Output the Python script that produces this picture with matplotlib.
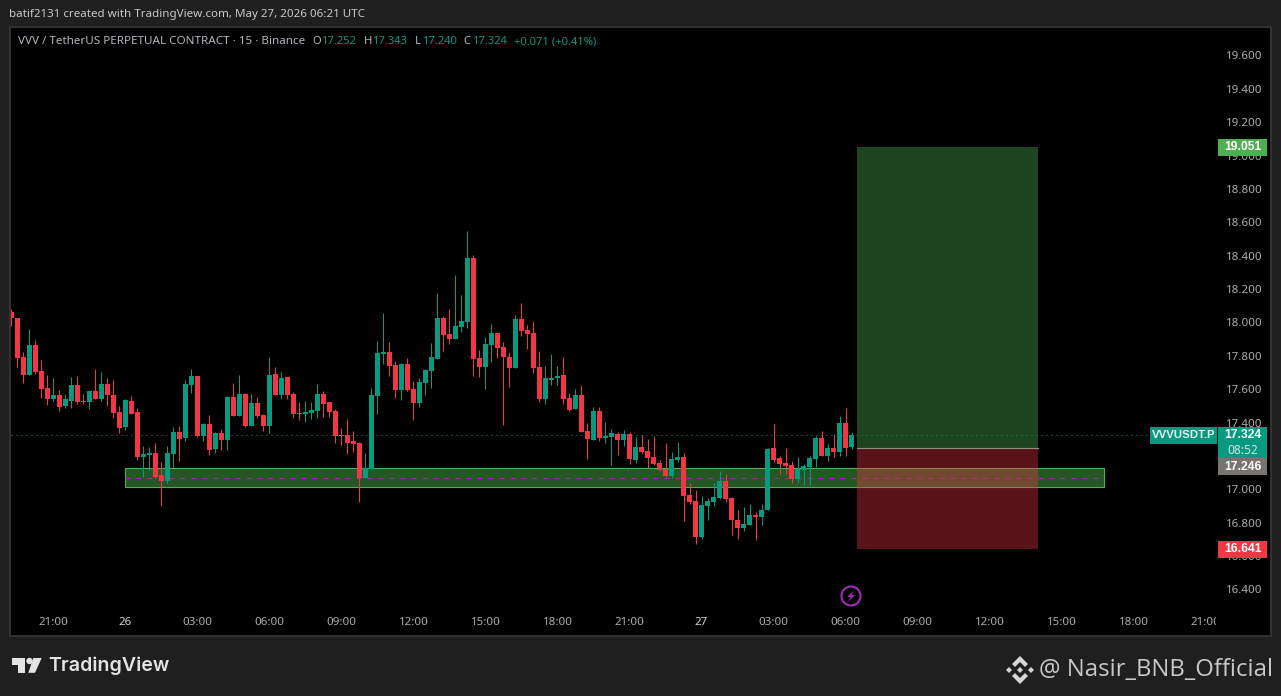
import matplotlib
matplotlib.use("Agg")
import matplotlib.pyplot as plt
from matplotlib.patches import Rectangle, Circle, Polygon
from matplotlib.transforms import Bbox

# 15 min candles, VVVUSDT.P
opens = [
    18.064, 18.028, 17.794, 17.686, 17.866, 17.71, 17.608, 17.542, 17.566, 17.5, 17.53, 17.626,
    17.53, 17.524, 17.59, 17.542, 17.632, 17.566, 17.464, 17.374, 17.53, 17.464, 17.194, 17.206,
    17.218, 17.086, 17.05, 17.212, 17.344, 17.308, 17.626, 17.68, 17.32, 17.392, 17.242, 17.338,
    17.296, 17.554, 17.44, 17.572, 17.38, 17.518, 17.446, 17.38, 17.692, 17.566, 17.674, 17.572,
    17.458, 17.452, 17.458, 17.47, 17.572, 17.524, 17.47, 17.326, 17.326, 17.29, 17.278, 17.068,
    17.122, 17.56, 17.812, 17.824, 17.746, 17.596, 17.752, 17.602, 17.518, 17.638, 17.71, 17.782,
    18.028, 17.932, 17.902, 17.974, 18.004, 18.388, 17.788, 17.734, 17.866, 17.938, 17.854, 17.794,
    17.728, 18.022, 17.956, 17.938, 17.734, 17.542, 17.656, 17.668, 17.686, 17.548, 17.482, 17.566,
    17.35, 17.296, 17.47, 17.308, 17.314, 17.332, 17.296, 17.332, 17.176, 17.254, 17.23, 17.194,
    17.158, 17.122, 17.08, 17.176, 17.194, 16.966, 16.93, 16.714, 16.9, 16.924, 16.948, 17.05,
    16.948, 16.816, 16.768, 16.786, 16.846, 16.834, 16.876, 17.248, 17.188, 17.158, 17.146, 17.062,
    17.116, 17.134, 17.182, 17.308, 17.2, 17.248, 17.224, 17.398, 17.252,
]
highs = [
    18.082, 18.028, 17.824, 17.962, 17.896, 17.776, 17.686, 17.668, 17.596, 17.572, 17.674, 17.68,
    17.572, 17.59, 17.722, 17.704, 17.668, 17.656, 17.5, 17.542, 17.56, 17.488, 17.26, 17.254,
    17.278, 17.164, 17.26, 17.374, 17.38, 17.656, 17.722, 17.68, 17.398, 17.446, 17.344, 17.362,
    17.56, 17.638, 17.686, 17.578, 17.572, 17.554, 17.452, 17.794, 17.734, 17.704, 17.674, 17.584,
    17.524, 17.53, 17.524, 17.632, 17.59, 17.524, 17.482, 17.368, 17.422, 17.35, 17.284, 17.218,
    17.608, 17.89, 18.058, 17.884, 17.77, 17.758, 17.788, 17.65, 17.668, 17.722, 17.878, 18.178,
    18.04, 18.082, 18.286, 18.166, 18.55, 18.406, 17.836, 17.914, 17.992, 17.938, 17.884, 17.824,
    18.046, 18.118, 17.986, 18.01, 17.83, 17.74, 17.812, 17.74, 17.794, 17.578, 17.602, 17.626,
    17.398, 17.494, 17.494, 17.404, 17.362, 17.344, 17.356, 17.344, 17.314, 17.326, 17.302, 17.32,
    17.176, 17.278, 17.224, 17.284, 17.218, 17.038, 16.996, 16.96, 16.948, 17.038, 17.11, 17.092,
    16.954, 16.876, 16.894, 16.912, 16.864, 16.912, 17.248, 17.392, 17.2, 17.248, 17.17, 17.194,
    17.152, 17.2, 17.32, 17.35, 17.272, 17.332, 17.44, 17.488, 17.343,
]
lows = [
    17.98, 17.734, 17.638, 17.686, 17.692, 17.548, 17.506, 17.53, 17.47, 17.488, 17.488, 17.512,
    17.512, 17.482, 17.542, 17.53, 17.5, 17.428, 17.338, 17.356, 17.452, 17.176, 17.074, 17.116,
    17.068, 16.9, 17.038, 17.134, 17.17, 17.29, 17.578, 17.314, 17.29, 17.206, 17.218, 17.236,
    17.236, 17.44, 17.44, 17.374, 17.38, 17.428, 17.35, 17.338, 17.566, 17.542, 17.542, 17.428,
    17.416, 17.404, 17.422, 17.428, 17.434, 17.434, 17.278, 17.266, 17.212, 17.224, 16.924, 17.068,
    17.122, 17.452, 17.752, 17.68, 17.548, 17.536, 17.59, 17.416, 17.494, 17.566, 17.608, 17.782,
    17.83, 17.872, 17.902, 17.944, 17.968, 17.68, 17.674, 17.602, 17.764, 17.788, 17.386, 17.614,
    17.728, 17.92, 17.842, 17.698, 17.524, 17.512, 17.626, 17.626, 17.512, 17.47, 17.482, 17.344,
    17.182, 17.296, 17.29, 17.278, 17.146, 17.206, 17.26, 17.152, 17.158, 17.218, 17.128, 17.146,
    17.11, 17.072, 17.068, 17.164, 16.81, 16.912, 16.672, 16.702, 16.816, 16.9, 16.942, 16.924,
    16.726, 16.702, 16.75, 16.786, 16.696, 16.786, 16.876, 17.164, 17.092, 17.092, 17.038, 17.038,
    17.026, 17.026, 17.134, 17.2, 17.17, 17.194, 17.2, 17.2, 17.24,
]
closes = [
    18.028, 17.788, 17.686, 17.866, 17.704, 17.602, 17.542, 17.566, 17.494, 17.542, 17.626, 17.524,
    17.524, 17.59, 17.542, 17.632, 17.566, 17.458, 17.368, 17.536, 17.452, 17.194, 17.212, 17.218,
    17.074, 17.05, 17.218, 17.344, 17.302, 17.632, 17.68, 17.32, 17.392, 17.236, 17.338, 17.296,
    17.554, 17.44, 17.572, 17.38, 17.518, 17.44, 17.38, 17.686, 17.566, 17.668, 17.566, 17.452,
    17.452, 17.464, 17.476, 17.572, 17.512, 17.464, 17.32, 17.32, 17.278, 17.272, 17.068, 17.128,
    17.566, 17.818, 17.824, 17.74, 17.596, 17.752, 17.596, 17.518, 17.644, 17.716, 17.794, 18.028,
    17.926, 17.902, 17.98, 18.01, 18.388, 17.782, 17.734, 17.872, 17.938, 17.848, 17.794, 17.728,
    18.022, 17.95, 17.932, 17.728, 17.542, 17.668, 17.668, 17.68, 17.542, 17.476, 17.566, 17.344,
    17.302, 17.47, 17.308, 17.32, 17.338, 17.296, 17.332, 17.182, 17.254, 17.224, 17.188, 17.152,
    17.116, 17.08, 17.182, 17.194, 16.96, 16.924, 16.714, 16.906, 16.93, 16.954, 17.05, 16.942,
    16.816, 16.768, 16.792, 16.846, 16.834, 16.876, 17.242, 17.176, 17.152, 17.14, 17.062, 17.122,
    17.14, 17.188, 17.308, 17.2, 17.248, 17.224, 17.398, 17.248, 17.324,
]

y_ticks = [16.4, 16.6, 16.8, 17.0, 17.2, 17.4, 17.6, 17.8, 18.0, 18.2, 18.4, 18.6, 18.8, 19.0, 19.2, 19.4, 19.6]
x_tick_pos = [7, 19, 31, 43, 55, 67, 79, 91, 103, 115, 127, 139, 151, 163, 175, 187, 199]
x_tick_labels = ["21:00", "26", "03:00", "06:00", "09:00", "12:00", "15:00", "18:00", "21:00",
                 "27", "03:00", "06:00", "09:00", "12:00", "15:00", "18:00", "21:00"]

# zone and long position drawings
zone_top, zone_mid, zone_bottom = 17.126, 17.07, 17.012
zone_start, zone_end = 19, 182.1
take_profit, entry, stop_loss = 19.051, 17.246, 16.641
pos_start, pos_end = 140.9, 171
last_price = 17.324

GREEN = "#089981"
RED = "#f23645"
FONT = "Noto Sans"
W, H = 1281, 696

fig = plt.figure(figsize=(W / 100, H / 100), dpi=100, facecolor="#1f1f1f")


def pixel_axes(z):
    a = fig.add_axes([0, 0, 1, 1], zorder=z)
    a.set_xlim(0, W)
    a.set_ylim(H, 0)
    a.axis("off")
    return a


# pane behind everything
back = pixel_axes(0)
back.add_patch(Rectangle((10, 27), 1261, 608.5, facecolor="black", edgecolor="#323232", lw=1.4))

ax = fig.add_axes([11 / W, (H - 606) / H, (1218 - 11) / W, (606 - 28) / H], zorder=1)
ax.patch.set_alpha(0)
ax.set_xlim(-0.083, 201.083)  # 6 px per candle, wicks land on a pixel column
ax.set_ylim(16.301, 19.764)
for s in ax.spines.values():
    s.set_visible(False)

# zone
ax.add_patch(Rectangle((zone_start, zone_bottom), zone_end - zone_start, zone_top - zone_bottom,
                       facecolor="#265526", edgecolor="#4caf50", lw=0.8, zorder=1))
ax.plot([zone_start, zone_end - 1], [zone_mid, zone_mid], color="#9c27b0", lw=0.72,
        dashes=(5, 6), zorder=1.5)

# long position box, see-through so the zone shows in it
ax.add_patch(Rectangle((pos_start, entry), pos_end - pos_start, take_profit - entry,
                       facecolor="#4caf50", alpha=0.4, lw=0, zorder=2))
ax.add_patch(Rectangle((pos_start, stop_loss), pos_end - pos_start, entry - stop_loss,
                       facecolor=RED, alpha=0.37, lw=0, zorder=2))
ax.plot([pos_start, pos_end], [entry, entry], color="#8f8f86", lw=0.8, zorder=2.5)

# last price line up to the symbol label
ax.plot([-0.083, 190], [last_price, last_price], color=GREEN, lw=0.72, dashes=(1, 4),
        zorder=2.5)

# candles
for i in range(len(opens)):
    c = GREEN if closes[i] >= opens[i] else RED
    ax.vlines(i, lows[i], highs[i], color=c, lw=0.72, zorder=3)
    ax.bar(i, abs(closes[i] - opens[i]), 5 / 6, bottom=min(opens[i], closes[i]), color=c, lw=0, zorder=3.5)

ax.yaxis.tick_right()
ax.set_yticks(y_ticks)
ax.set_yticklabels([f"{v:.3f}" for v in y_ticks], fontname=FONT, fontsize=8.3, color="#adadad")
ax.set_xticks(x_tick_pos)
ax.set_xticklabels(x_tick_labels, fontname=FONT, fontsize=8.3, color="#adadad")
ax.tick_params(axis="both", length=0)
ax.tick_params(axis="y", pad=6)
ax.tick_params(axis="x", pad=7.7)
for lab in ax.get_yticklabels():
    lab.set_verticalalignment("center_baseline")
for lab in ax.get_xticklabels():
    if lab.get_text() in ("26", "27"):
        lab.set_color("#d4d4d4")
# the last time label gets cut by the price scale
last_lab = ax.get_xticklabels()[-1]
last_lab.set_clip_on(True)
last_lab.set_clip_box(Bbox.from_extents(0, 0, 1216, H))

# labels, logos and header on top
top = pixel_axes(2)


def price_y(p):
    return H - ax.transData.transform((0, p))[1]


def price_box(y0, height, color, txt, txt_color="white"):
    top.add_patch(Rectangle((1218, y0), 49, height, facecolor=color, lw=0))
    top.text(1243, y0 + 8.5, txt, color=txt_color, fontsize=8.7, fontname="Liberation Sans", weight="bold",
             ha="center", va="center")


price_box(price_y(take_profit) - 8.5, 17, "#4caf50", "19.051")
price_box(price_y(stop_loss) - 8.5, 17, RED, "16.641")
price_box(458, 17, "#787571", "17.246")
price_box(price_y(last_price) - 8.5, 31, GREEN, "17.324")
top.text(1243, 450, "08:52", color="#c9ebe4", fontsize=8.6, fontname=FONT, ha="center", va="center")
top.add_patch(Rectangle((1150, price_y(last_price) - 8.5), 67, 17, facecolor=GREEN, lw=0))
top.text(1183.5, 435.5, "VVVUSDT.P", color="#e4f5f1", fontsize=8.2, fontname="Liberation Sans", weight="bold",
         ha="center", va="center")

# header and legend line
top.text(9, 14.8, "batif2131 created with TradingView.com, May 27, 2026 06:21 UTC", color="#c8c8c8",
         fontsize=8.35, fontname=FONT, va="center")
top.text(18, 41.8, "VVV / TetherUS PERPETUAL CONTRACT · 15 · Binance", color="#b2b5be",
         fontsize=8.4, fontname=FONT, va="center")
legend_bits = [(312, "O", "#b2b5be"), (321, "17.252", GREEN), (364, "H", "#b2b5be"), (372, "17.343", GREEN),
               (415, "L", "#b2b5be"), (422, "17.240", GREEN), (463, "C", "#b2b5be"), (472, "17.324", GREEN),
               (514, "+0.071 (+0.41%)", GREEN)]
for x, t, col in legend_bits:
    top.text(x, 41.8, t, color=col, fontsize=8.1, fontname=FONT, va="center")

# lightning event icon
top.add_patch(Circle((851, 596), 9.5, facecolor="none", edgecolor="#a02bb5", lw=1.5))
top.add_patch(Polygon([(854, 590), (847, 597), (850.5, 597), (848, 602), (855, 595), (851.5, 595)],
                      facecolor="#a02bb5", lw=0))

# TradingView logo
LOGO = "#e3e3e3"
top.add_patch(Polygon([(12, 658), (25, 658), (25, 673), (18, 673), (18, 665), (12, 665)], facecolor=LOGO, lw=0))
top.add_patch(Circle((29.5, 661), 3.2, facecolor=LOGO, lw=0))
top.add_patch(Polygon([(33.3, 658), (41.7, 658), (35, 672.8), (28.3, 672.8)], facecolor=LOGO, lw=0))
top.text(48, 665.5, "TradingView", color=LOGO, fontsize=14.1, fontname="Inter", weight="semibold", va="center")

# watermark with the binance mark
MARK = "#d6d6d6"
cx, cy = 1020, 670
top.add_patch(Polygon([(cx, cy - 14), (cx + 8, cy - 6), (cx + 5, cy - 3), (cx, cy - 8), (cx - 5, cy - 3), (cx - 8, cy - 6)],
                      facecolor=MARK, lw=0))
top.add_patch(Polygon([(cx, cy + 14), (cx + 8, cy + 6), (cx + 5, cy + 3), (cx, cy + 8), (cx - 5, cy + 3), (cx - 8, cy + 6)],
                      facecolor=MARK, lw=0))
for dx in (-11, 0, 11):
    top.add_patch(Polygon([(cx + dx, cy - 3), (cx + dx + 3, cy), (cx + dx, cy + 3), (cx + dx - 3, cy)], facecolor=MARK, lw=0))
top.text(1039, 670, "@ Nasir_BNB_Official", color="#c8c8c8", fontsize=17.2, fontname="Open Sans", va="center")

fig.savefig("out.png", dpi=100, facecolor=fig.get_facecolor())
